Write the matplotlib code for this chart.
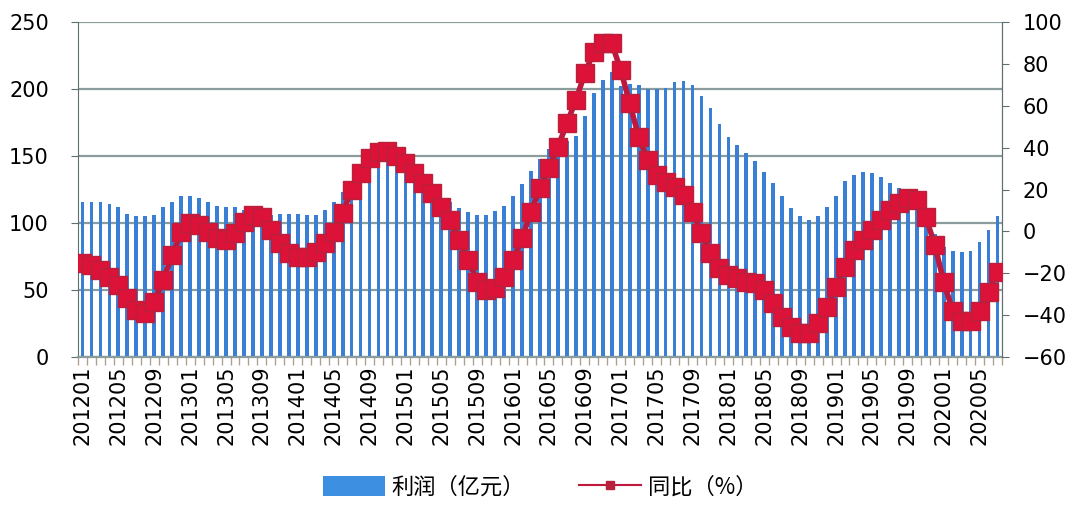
import numpy as np
import matplotlib
matplotlib.use("Agg")
import matplotlib.pyplot as plt
from matplotlib.patches import Patch
from matplotlib.lines import Line2D

# months 201201 .. 202007
months = [f"{y}{m:02d}" for y in range(2012, 2021) for m in range(1, 13)][:103]

# profit, 100 million yuan
profit = [116, 116, 116, 114, 112, 107, 105, 105, 106, 112, 116, 120,
          120, 119, 116, 113, 112, 112, 110, 110, 107, 106, 107, 107,
          107, 106, 106, 110, 116, 123, 130, 137, 142, 147, 149, 144,
          138, 131, 124, 119, 116, 116, 111, 108, 106, 106, 109, 113,
          120, 129, 139, 148, 155, 158, 161, 165, 180, 197, 207, 213,
          202, 204, 203, 200, 200, 201, 205, 206, 203, 195, 186, 174,
          164, 158, 152, 146, 138, 130, 120, 111, 105, 102, 105, 112,
          120, 131, 136, 138, 137, 134, 130, 126, 123, 119, 107, 92,
          82, 79, 78, 79, 86, 95, 105]

# year-on-year change, %
yoy = [-15.3, -16, -18.4, -21.6, -25.5, -32, -37.6, -38.8, -33.6, -23.2, -11.3, -0.5,
       4.2, 3, -0.5, -3, -4, -1, 4.6, 7.8, 7, 0.7, -5.7, -10.5,
       -12.1, -12.1, -9.7, -5.7, -0.2, 8.6, 19.8, 27.7, 34.9, 38, 38.5, 36,
       32.5, 27.7, 23, 18.2, 11.8, 5.4, -4.1, -13.7, -24, -28, -27.2, -21.6,
       -13.7, -3.3, 9.4, 20.6, 30.1, 40.4, 51.6, 62.7, 75.5, 85.8, 89.8, 89.8,
       77.1, 61.2, 45.2, 34.1, 26.9, 23.7, 21.3, 17.4, 9.4, -0.9, -10.5, -17.5,
       -20.8, -22.4, -24, -24.8, -28, -34.4, -40.7, -45.5, -48.7, -48.7, -43.9, -36,
       -26.4, -16.9, -8.9, -4.1, 0.7, 5.4, 10.2, 13.4, 15.8, 15, 7, -6.5,
       -24, -38, -43, -43, -38, -29, -19.3]

left_ticks = [0, 50, 100, 150, 200, 250]
right_ticks = [-60, -40, -20, 0, 20, 40, 60, 80, 100]

x = np.arange(len(months))
grid_c = "#8a9c9c"
axis_c = "#5f6e6e"

fig = plt.figure(figsize=(10.8, 5.23), dpi=100)
ax = fig.add_axes([78 / 1080, 1 - 357 / 523, 924 / 1080, 335 / 523])

ax.bar(x, profit, width=0.42, color="#3a7fd6", zorder=2)
ax.set_xlim(-0.5, len(months) - 0.5)
ax.set_ylim(0, 250)
ax.set_yticks(left_ticks)
ax.yaxis.grid(True, color=grid_c, linewidth=1.6, zorder=0)
ax.set_axisbelow(True)

ax.set_xticks(x[::4])
ax.set_xticklabels(months[::4], rotation=90, fontsize=15, family="DejaVu Sans")
ax.set_xticks(np.arange(-0.5, len(months), 1), minor=True)
ax.tick_params(axis="x", which="major", length=0, pad=6)
ax.tick_params(axis="x", which="minor", length=6, color="#b0a090", width=1)
ax.tick_params(axis="y", length=5, color=axis_c, labelsize=15, pad=16)

ax.spines["top"].set_visible(False)
ax.spines["left"].set_color(axis_c)
ax.spines["bottom"].set_color(grid_c)
ax.spines["bottom"].set_linewidth(1.6)
ax.spines["right"].set_color(axis_c)

ax2 = ax.twinx()
ax2.plot(x, yoy, color="#c0183c", linewidth=4, marker="s", markersize=12.5,
         markerfacecolor="#dc1238", markeredgecolor="#b8203c", markeredgewidth=1,
         zorder=3)
ax2.set_ylim(-60, 100)
ax2.set_yticks(right_ticks)
ax2.tick_params(axis="y", length=5, color=axis_c, labelsize=15, pad=10)
ax2.spines["top"].set_visible(False)
ax2.spines["right"].set_color(axis_c)
ax2.spines["left"].set_visible(False)
ax2.spines["bottom"].set_visible(False)

handles = [Patch(facecolor="#3d8fe2", edgecolor="none"),
           Line2D([0], [0], color="#c0183c", linewidth=1.5, marker="s",
                  markersize=6, markerfacecolor="#b8203c", markeredgecolor="#b8203c")]
fig.legend(handles, ["利润（亿元）", "同比（%）"], loc="center",
           bbox_to_anchor=(0.5, 1 - 487 / 523), ncol=2, frameon=False,
           prop={"family": ["Noto Sans CJK SC", "DejaVu Sans"], "size": 16},
           handlelength=2.8, handleheight=1.0, columnspacing=2.4, handletextpad=0.3)

fig.savefig("out.png", dpi=100)
